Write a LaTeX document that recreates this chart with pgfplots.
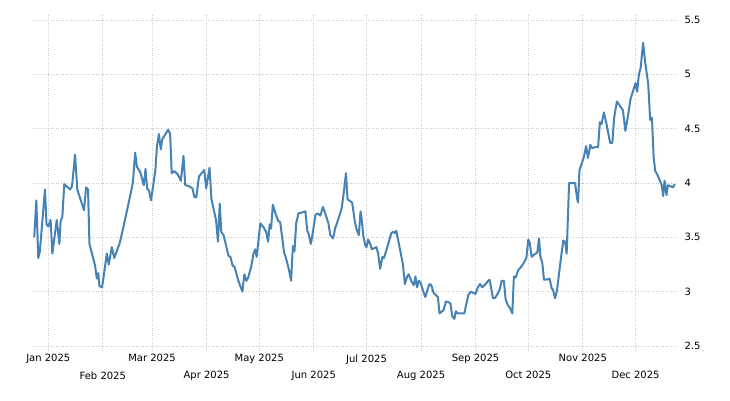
\documentclass[border=0pt]{standalone}
\usepackage{pgfplots}
\pgfplotsset{compat=1.18}
\usepackage{fontspec}
\setmainfont{DejaVu Sans}
\definecolor{steel}{RGB}{70,130,180}
\definecolor{gridgray}{RGB}{200,200,200}

\begin{document}
\begin{tikzpicture}[font=\fontsize{10}{12}\selectfont]
\path[use as bounding box] (0,0) rectangle (730pt,400pt);
\begin{axis}[
    at={(33pt,54pt)}, anchor=south west,
    scale only axis,
    width=643pt, height=326pt,
    xmin=-8.7, xmax=357,
    ymin=2.5, ymax=5.5,
    xtick={0,59,120,181,243,304},
    xticklabels={Jan 2025,Mar 2025,May 2025,Jul 2025,Sep 2025,Nov 2025},
    extra x ticks={31,90,151,212,273,334},
    extra x tick labels={Feb 2025,Apr 2025,Jun 2025,Aug 2025,Oct 2025,Dec 2025},
    extra x tick style={grid=major, xticklabel style={yshift=-17pt}},
    ytick={2.5,3,3.5,4,4.5,5,5.5},
    yticklabel pos=right,
    /pgf/number format/assume math mode=true,
    grid=major,
    major grid style={gridgray, line width=0.7pt, dash pattern=on 0.7pt off 1.8pt},
    axis line style={draw=none},
    tick align=outside,
    major tick length=5pt,
    xtick style={gridgray, line width=0.7pt, dash pattern=on 0.7pt off 1.8pt},
    ytick style={draw=none},
    tick label style={text=black},
    clip=false,
]
\addplot[steel, line width=2pt, line join=round, no marks] coordinates {
(-8,3.50) (-6.8,3.84) (-5.7,3.31) (-4.8,3.37) (-1.9,3.94) (-1,3.62) (0,3.60)
(1.3,3.66) (2.3,3.35) (4.8,3.66) (6.3,3.44) (7,3.65) (8,3.69) (9.1,3.99)
(12.4,3.94) (13.5,3.97) (15.2,4.26) (16.5,3.94) (20.3,3.75) (21.5,3.96)
(22.6,3.94) (23.4,3.44) (26.6,3.24) (27.6,3.12) (28.4,3.17) (29.1,3.05)
(30.6,3.04) (33.3,3.35) (34.4,3.25) (36.1,3.41) (37.5,3.31) (40.5,3.44)
(42.8,3.60) (45.6,3.81) (48.1,4.00) (49.4,4.28) (50.4,4.15) (52.3,4.10)
(54.3,3.98) (55.3,4.13) (56.2,3.95) (57.3,3.93) (58.4,3.84) (59.6,3.97)
(60.9,4.12) (61.8,4.34) (62.9,4.45) (64,4.31) (64.8,4.40) (67,4.46)
(68.2,4.49) (69.3,4.45) (70.2,4.09) (71.7,4.11) (73.6,4.08) (75.4,4.02)
(76.9,4.25) (77.9,3.98) (80.1,3.97) (82,3.95) (83.1,3.87) (84.2,3.87)
(85.7,4.06) (88.7,4.12) (89.8,3.95) (91.7,4.14) (92.8,3.85) (95.4,3.66)
(96.5,3.46) (97.5,3.81) (98.4,3.55) (99.7,3.52) (102.5,3.33) (103.6,3.32)
(104.8,3.24) (105.9,3.23) (108.1,3.10) (110.4,3.00) (111.5,3.16) (112.6,3.10)
(113.7,3.13) (115.4,3.23) (116.7,3.35) (117.7,3.39) (118.5,3.32) (120.6,3.63)
(122.5,3.59) (123.9,3.55) (125,3.46) (125.9,3.62) (126.7,3.58) (127.7,3.80)
(129.2,3.72) (130.8,3.65) (131.9,3.64) (134.1,3.36) (135,3.32) (136.9,3.20)
(138.1,3.10) (139.1,3.42) (140,3.37) (141,3.63) (142.3,3.72) (144.6,3.73)
(146.2,3.74) (147.3,3.56) (148.1,3.53) (149.3,3.44) (150,3.50) (152,3.71)
(153.3,3.72) (154.7,3.70) (156.2,3.78) (157.5,3.72) (159.3,3.63) (160.4,3.52)
(162,3.49) (163.1,3.58) (165.4,3.69) (166.9,3.77) (168.1,3.92) (169.3,4.09)
(170.2,3.85) (172.8,3.82) (174.5,3.63) (175.4,3.57) (176.6,3.52) (177.6,3.74)
(178.3,3.66) (179.1,3.52) (180.2,3.43) (181,3.41) (181.9,3.48) (183.1,3.44)
(184,3.39) (185.3,3.40) (186.6,3.41) (187.6,3.35) (188.7,3.21) (190,3.32)
(190.9,3.31) (192.8,3.41) (195.1,3.54) (196.2,3.55) (197.1,3.54) (197.9,3.56)
(199.4,3.44) (201.7,3.25) (202.8,3.07) (204.1,3.14) (205,3.16) (206.4,3.10)
(207.9,3.06) (208.8,3.14) (209.7,3.04) (210.7,3.10) (211.8,3.08) (213.1,3.01)
(214.4,2.95) (215.9,3.03) (216.8,3.07) (217.8,3.06) (219.1,2.99) (221.6,2.95)
(222.5,2.80) (224.8,2.83) (226.1,2.91) (228,2.90) (228.7,2.89) (229.8,2.77)
(231,2.75) (231.7,2.82) (232.9,2.80) (235.1,2.80) (236.6,2.80) (237.4,2.86)
(238.9,2.97) (240.2,3.00) (241.5,2.99) (243,2.98) (244.3,3.04) (245.5,3.07)
(246.8,3.04) (248.7,3.07) (250.2,3.10) (251,3.11) (252.9,2.94) (254,2.94)
(255.9,2.99) (256.9,3.03) (257.8,3.10) (259.1,3.10) (260.1,2.93) (261.2,2.88)
(262.6,2.85) (263.9,2.80) (264.8,3.14) (265.8,3.13) (267.3,3.20) (268.6,3.22)
(270.2,3.26) (271.9,3.31) (273,3.48) (273.8,3.45) (274.9,3.32) (276.2,3.34)
(278.1,3.36) (279.1,3.49) (279.8,3.33) (281,3.26) (281.9,3.11) (283.3,3.11)
(285.1,3.12) (286.3,3.03) (287,3.02) (288.2,2.94) (289.3,3.01) (290.5,3.17)
(291.8,3.34) (292.9,3.47) (293.9,3.46) (294.8,3.35) (296.2,4.00) (298.5,4.00)
(299.6,4.00) (300.7,3.86) (301.3,3.82) (302.1,4.12) (303.4,4.18) (304.6,4.24)
(305.9,4.34) (306.9,4.23) (308.3,4.35) (309.4,4.32) (310.8,4.33) (312.7,4.33)
(313.7,4.56) (314.6,4.54) (316,4.65) (317.5,4.54) (319.5,4.37) (320.8,4.37)
(321.8,4.60) (323.4,4.75) (324.7,4.72) (326.8,4.67) (328.2,4.48) (329.5,4.60)
(331.1,4.77) (332.6,4.85) (334,4.92) (334.9,4.84) (335.9,5.00) (336.9,5.06)
(338.3,5.29) (339.4,5.12) (341.2,4.91) (342.3,4.58) (343.3,4.60) (344.3,4.23)
(345.2,4.11) (346.6,4.07) (348.1,4.01) (348.9,3.98) (349.7,3.88) (350.5,4.02)
(351.6,3.89) (352.4,3.98) (353.9,3.97) (355.3,3.96) (356.3,3.99)
};
\end{axis}
\end{tikzpicture}
\end{document}
